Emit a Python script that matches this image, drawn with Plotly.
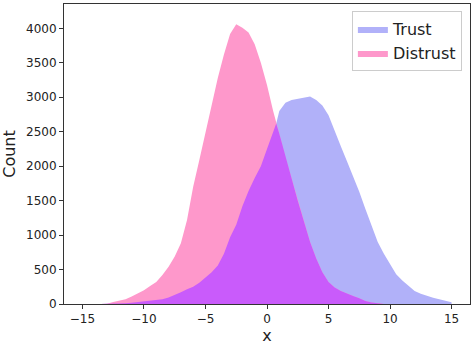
import numpy as np
import plotly.graph_objects as go

# bin centres (x) and counts
x_vals = [-13.5, -13.0, -12.5, -12.0, -11.5, -11.0, -10.5, -10.0, -9.5, -9.0,
          -8.5, -8.0, -7.5, -7.0, -6.5, -6.0, -5.5, -5.0, -4.5, -4.0,
          -3.5, -3.0, -2.5, -2.0, -1.5, -1.0, -0.5, 0.0, 0.5, 0.75, 1.0,
          1.5, 2.0, 2.5, 3.0, 3.5, 4.0, 4.5, 5.0, 5.5, 6.0,
          6.5, 7.0, 7.5, 8.0, 8.5, 9.0, 9.5, 10.0, 10.5, 11.0,
          11.5, 12.0, 12.5, 13.0, 13.5, 14.0, 14.5, 15.0]

trust = [0, 0, 0, 3, 10, 18, 28, 38, 48, 58,
         70, 95, 130, 170, 215, 250, 310, 380, 460, 560,
         730, 970, 1150, 1420, 1640, 1830, 2000, 2250, 2480, 2620, 2800,
         2920, 2960, 2980, 3000, 3010, 2960, 2880, 2740, 2500, 2290,
         2070, 1850, 1630, 1380, 1150, 900, 730, 570, 430, 340,
         260, 190, 150, 115, 90, 70, 50, 25]

distrust = [0, 5, 28, 45, 70, 110, 150, 200, 260, 320,
            420, 540, 690, 880, 1220, 1700, 2090, 2490, 2930, 3280,
            3620, 3920, 4060, 4010, 3940, 3770, 3500, 3180, 2800, 2620, 2470,
            2130, 1820, 1500, 1180, 900, 660, 460, 320, 240, 190,
            150, 115, 85, 45, 20, 5, 0, 0, 0, 0,
            0, 0, 0, 0, 0, 0, 0, 0]

labels = ["Trust", "Distrust"]
x_ticks = [-15, -10, -5, 0, 5, 10, 15]
y_ticks = [0, 500, 1000, 1500, 2000, 2500, 3000, 3500, 4000]

FONT = "DejaVu Sans"
C_TRUST = "#b1b1f9"
C_DIST = "#fe98cb"
C_OVER = "#c95bfb"

overlap = np.minimum(np.array(trust), np.array(distrust))

fig = go.Figure()
fig.add_trace(go.Scatter(x=x_vals, y=trust, mode="lines", fill="tozeroy",
                         fillcolor=C_TRUST, line=dict(width=0, color=C_TRUST),
                         name=labels[0], hoverinfo="skip"))
fig.add_trace(go.Scatter(x=x_vals, y=distrust, mode="lines", fill="tozeroy",
                         fillcolor=C_DIST, line=dict(width=0, color=C_DIST),
                         name=labels[1], hoverinfo="skip"))
fig.add_trace(go.Scatter(x=x_vals, y=overlap, mode="lines", fill="tozeroy",
                         fillcolor=C_OVER, line=dict(width=0, color=C_OVER),
                         showlegend=False, hoverinfo="skip"))

axis_common = dict(showline=True, mirror=True, linecolor="#333333", linewidth=1,
                   ticks="outside", ticklen=4, tickcolor="#333333",
                   showgrid=False, zeroline=False,
                   tickfont=dict(family=FONT, size=12, color="#222222"))

fig.update_xaxes(range=[-16.5, 16.5], tickvals=x_ticks,
                 ticktext=[str(v).replace("-", "\u2212") for v in x_ticks],
                 title=dict(text="x", font=dict(family=FONT, size=16, color="#222222"),
                            standoff=4),
                 **axis_common)
fig.update_yaxes(range=[0, 4354], tickvals=y_ticks,
                 ticktext=[str(v) for v in y_ticks],
                 title=dict(text="Count", font=dict(family=FONT, size=16, color="#222222"),
                            standoff=6),
                 **axis_common)

fig.update_layout(
    width=474, height=345,
    margin=dict(l=64, r=4, t=3, b=40),
    paper_bgcolor="white", plot_bgcolor="white",
    font=dict(family=FONT, size=12, color="#222222"),
    legend=dict(x=0.98, y=0.976, xanchor="right", yanchor="top",
                bordercolor="#cccccc", borderwidth=1, bgcolor="rgba(255,255,255,0.8)",
                font=dict(family=FONT, size=16, color="#222222"),
                itemwidth=30, tracegroupgap=4),
    showlegend=True,
)

fig.write_html("out.html")
